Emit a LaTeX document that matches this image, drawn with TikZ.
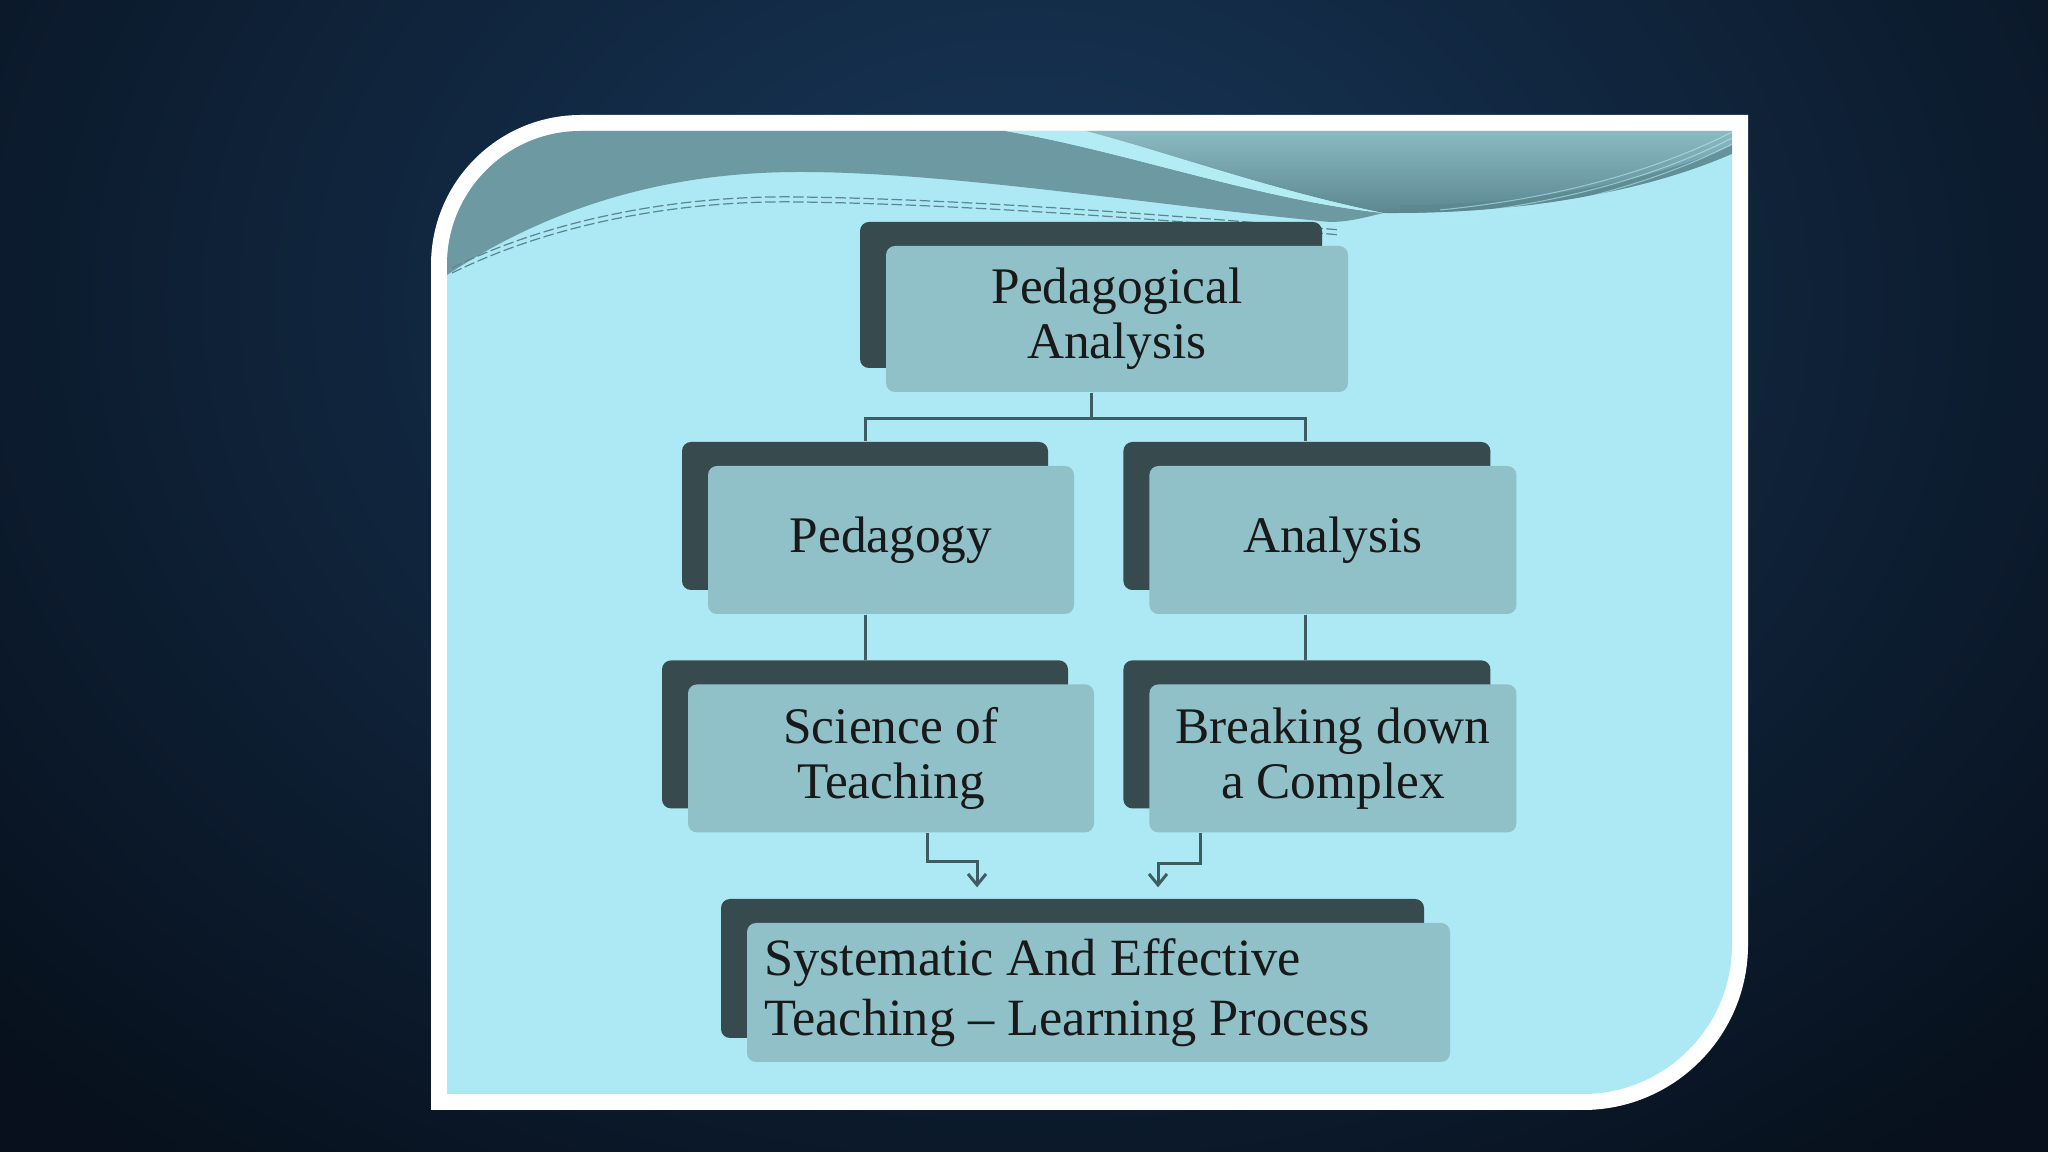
\documentclass[tikz,border=0pt]{standalone}
\usepackage{fontspec}
\setmainfont{Liberation Serif}
\usepackage{tikz}
\usetikzlibrary{arrows.meta, positioning, shadows}
\definecolor{bgnavy}{HTML}{183759}
\definecolor{bgdark}{HTML}{07101C}
\definecolor{panel}{HTML}{ACE9F4}
\definecolor{swteal}{HTML}{6C99A2}
\definecolor{swgray}{HTML}{8CBAC2}
\definecolor{swdeep}{HTML}{5A8790}
\definecolor{stripe}{HTML}{B4ECF5}
\definecolor{boxfront}{HTML}{90C0C8}
\definecolor{boxback}{HTML}{374A4D}
\definecolor{linecol}{HTML}{3E5C62}

\begin{document}
\begin{tikzpicture}[
    x=0.1mm, y=-0.1mm,
    node distance = 6.9mm and 7.4mm,
    kasse/.style = {rectangle, rounded corners=0.9mm, fill=boxfront, text=black!90,
      minimum height=14.8mm, inner sep=0pt, align=center,
      general shadow={fill=boxback, shadow xshift=-2.6mm, shadow yshift=2.4mm},
      font=\fontsize{14.6pt}{15.6pt}\selectfont},
    linje/.style = {linecol, line width=0.3mm},
    pil/.style = {linje, -{Straight Barb[length=1.1mm, width=1.8mm]}},
    swline/.style = {draw=swdeep, line width=0.35pt, dash pattern=on 3pt off 1pt},
    swthin/.style = {draw=stripe, line width=0.3pt, opacity=0.6}
    ]

  % background and frame
  \useasboundingbox (0,0) rectangle (2048,1152);
  \begin{scope}
    \clip (0,0) rectangle (2048,1152);
    \fill[bgdark] (0,0) rectangle (2048,1152);
    \shade[inner color=bgnavy, outer color=bgdark] (-400,-800) rectangle (2448,1400);
  \end{scope}
  \fill[white] (431,265) .. controls (431,182) and (498,115) .. (581,115) -- (1748,115)
    -- (1748,945) .. controls (1748,1036) and (1674,1110) .. (1583,1110) -- (431,1110) -- cycle;
  \fill[panel] (447,265) .. controls (447,191) and (507,131) .. (581,131) -- (1732,131)
    -- (1732,945) .. controls (1732,1027) and (1665,1094) .. (1583,1094) -- (447,1094) -- cycle;

  % swoosh at the top
  \begin{scope}
    \clip (447,265) .. controls (447,191) and (507,131) .. (581,131) -- (1732,131)
      -- (1732,400) -- (447,400) -- cycle;
    \fill[swteal] (447,131) -- (1005,131) .. controls (1120,150) and (1260,200) .. (1383,213)
      .. controls (1360,219) and (1345,222) .. (1330,222)
      .. controls (1150,205) and (950,172) .. (800,172)
      .. controls (680,172) and (560,200) .. (447,275) -- cycle;
    \shade[top color=swgray, bottom color=swdeep] (1085,131) -- (1740,131) -- (1740,150)
      .. controls (1650,192) and (1520,214) .. (1383,213)
      .. controls (1270,190) and (1160,150) .. (1085,131) -- cycle;
    \draw[swdeep, line width=2.2pt, opacity=0.7] (1740,146)
      .. controls (1650,188) and (1520,209) .. (1400,209);
    \fill[stripe] (1005,131) -- (1085,131) .. controls (1160,150) and (1270,190) .. (1383,213)
      .. controls (1260,200) and (1120,150) .. (1005,131) -- cycle;
    \draw[swline] (452,268) .. controls (560,215) and (690,195) .. (800,197)
      .. controls (950,199) and (1150,213) .. (1340,230);
    \draw[swline] (452,273) .. controls (560,220) and (690,200) .. (800,202)
      .. controls (950,204) and (1150,218) .. (1340,235);
    \foreach \d in {0,6,12}
      \draw[swthin] (1440,210+\d) .. controls (1560,198+\d) and (1660,170+\d) .. (1740,128+\d);
  \end{scope}

  \node[kasse, minimum width=46.2mm, minimum height=14.6mm] (pa) at (1117,319) {Pedagogical\\Analysis};
  \node[kasse, minimum width=36.6mm] (ped) at (891,540) {Pedagogy};
  \node[kasse, minimum width=36.7mm] (ana) [right=of ped] {Analysis};
  \node[kasse, minimum width=40.6mm] (sci) [below=of ped] {Science of\\Teaching};
  \node[kasse, minimum width=36.7mm] (brk) [below=of ana] {Breaking down\\a Complex};
  \node[kasse, minimum width=70.3mm, minimum height=13.9mm, text width=66.9mm, align=flush left,
    font=\fontsize{14.9pt}{17pt}\selectfont] (sys) at (1098.5,992.5)
    {Systematic And Effective\\Teaching -- Learning Process};

  \draw[linje] ([xshift=-2.6mm]pa.south) -- ++(0,26) -| ([xshift=-2.6mm, yshift=2.4mm]ped.north);
  \draw[linje] ([xshift=-2.6mm]pa.south) -- ++(0,26) -| ([xshift=-2.7mm, yshift=2.4mm]ana.north);
  \draw[linje] ([xshift=-2.6mm]ped.south) -- ([xshift=-2.6mm, yshift=2.4mm]sci.north);
  \draw[linje] ([xshift=-2.7mm]ana.south) -- ([xshift=-2.7mm, yshift=2.4mm]brk.north);
  \draw[pil] ([xshift=3.6mm]sci.south) -- ++(0,28) -| ([xshift=-12.15mm, yshift=3.5mm]sys.north);
  \draw[pil] ([xshift=-13.25mm]brk.south) -- ++(0,30) -| ([xshift=5.95mm, yshift=3.5mm]sys.north);
\end{tikzpicture}
\end{document}
